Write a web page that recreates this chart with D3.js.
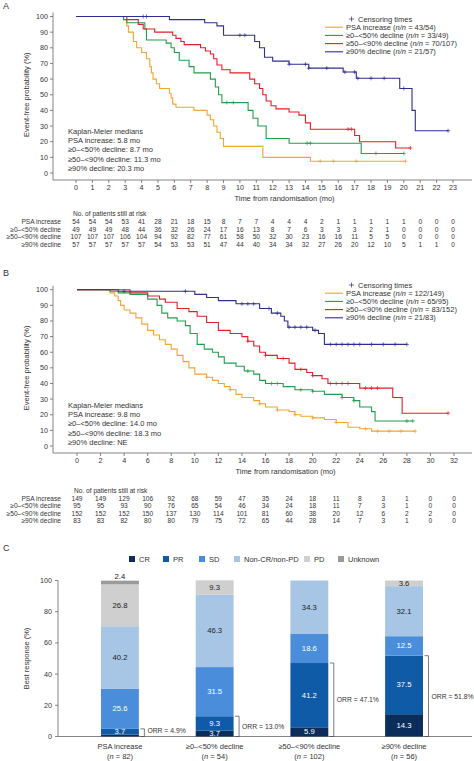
<!DOCTYPE html>
<html><head><meta charset="utf-8">
<script src="https://cdn.jsdelivr.net/npm/d3@7"></script>
<style>body{margin:0;background:#fff}text{font-family:"Liberation Sans",Arial,sans-serif}</style>
</head><body><svg id="c" width="474" height="761"></svg>
<script>
const groups = ["PSA increase","≥0–<50% decline","≥50–<90% decline","≥90% decline"];
const colors = ["#f2a531","#1f9e4b","#e41e26","#2e2f8f"];
// Panel A
const nA = ["43/54","33/49","70/107","21/57"];
const stepsA = [
 [[2.9,98],[3.1,94],[3.2,90],[3.5,84],[3.7,80],[4,77],[4.3,73],[4.5,68],[4.6,64],[4.7,60],[4.9,57],[5.1,54],[5.7,51],[5.8,48],[5.9,44],[6.1,42],[7.2,40],[8,37],[8.2,34],[8.4,30],[8.6,26],[8.8,22],[9,17],[11.4,10],[14.3,7.5]],
 [[2.9,98],[3.1,96],[4.2,92],[4.3,85],[5.5,83],[5.8,80],[6,77],[6.3,72],[6.9,68],[7.2,64],[8.2,60],[8.5,55],[8.7,50],[8.9,45],[10.5,40],[10.8,35],[11.1,30],[11.6,22],[13,19],[17.4,12.5]],
 [[3.1,98],[3.8,95],[4.1,92],[4.8,90],[5.9,88],[6.1,86],[6.4,84],[6.6,82],[7.6,80],[7.9,78],[8.2,76],[8.4,73],[8.6,69],[8.9,66],[9.4,64],[10.6,60],[10.9,57],[11.2,54],[11.4,50],[11.6,46],[11.9,43],[12.2,41],[13,39],[13.6,37],[14,32],[14.3,28],[17,24],[17.3,20],[19.5,16]],
 [[5.7,98],[7.85,96],[8.6,94],[9,88],[10.9,84],[11.2,80],[11.5,74],[12,71.5],[13,69.5],[14.2,67],[16.3,64.5],[17.1,60.5],[19.75,54],[20.5,40],[20.7,27]]
];
const endA = [20.1,20,20.4,22.7];
const censA = [[14.9,15.7,17.1,20.1],[9.2,9.6,14.1,14.3,18.3,20],[16.6,16.8,20.4],[4.1,4.3,10,10.3,13,14,14.2,15.3,16.4,17,17.2,18,18.8,20,22.7]];
const riskTimesA = d3.range(0,24);
const riskA = [
 [54,54,54,53,41,28,21,18,15,8,7,7,4,4,4,2,1,1,1,1,1,0,0,0],
 [49,49,49,48,44,36,32,26,24,17,16,13,8,7,6,3,3,3,2,1,0,0,0,0],
 [107,107,107,106,104,94,92,82,77,61,58,50,32,30,23,16,16,11,5,5,0,0,0,0],
 [57,57,57,57,57,54,53,53,51,47,44,40,34,34,32,27,26,20,12,10,5,1,1,0]
];
const medA = ["Kaplan-Meier medians","PSA increase: 5.8 mo","≥0–<50% decline: 8.7 mo","≥50–<90% decline: 11.3 mo","≥90% decline: 20.3 mo"];
// Panel B
const nB = ["122/149","65/95","83/152","21/83"];
const stepsB = [
 [[2.8,98],[3.2,96],[3.5,93],[3.7,90],[4,87],[4.5,85],[5,82],[5.5,78],[6,74],[6.5,71],[7,68],[7.5,65],[8,62],[8.5,58],[9,54],[9.5,50],[10,46],[11,44],[11.5,42],[12,40],[12.5,38],[13,36],[13.5,33],[14,31],[15,29],[15.5,27],[16,25],[17,23],[18,22],[18.5,20],[19,19],[20,18],[21,17],[22,15],[23,12],[24,11],[25,9.5]],
 [[2.8,99],[3.5,98],[4.5,97],[6,94],[6.8,90],[7.2,85],[7.7,82],[8.5,80],[9.2,77],[9.6,72],[10.2,65],[10.8,62],[11.5,60],[12,57],[12.5,53],[13.5,51],[14.2,48],[15,46],[15.5,42],[16,40],[17.5,38],[18.5,36],[20,35],[21,33],[22.5,31],[23.5,29],[24,25],[25,22],[25.3,16]],
 [[4.5,98],[6,96],[7,94],[7.5,92],[8.5,88],[9.5,86],[10.2,83],[11,79],[12,74],[13,72],[14,70],[14.5,67],[15,64],[15.5,60],[16,58],[17,56],[18,53],[18.5,49],[19.5,47],[20,45],[20.8,43],[21.3,40],[24,37],[26.8,31],[27.6,21]],
 [[3.5,99],[10,97],[11,95],[12,93],[13.5,91],[15.5,88],[16.5,85],[17.3,83],[17.6,80],[17.9,76],[20,74],[20.5,72],[21,65]]
];
const endB = [28.7,28.5,31.5,28];
const censB = [[11,13,15.5,17,18.5,20,22,24.5,25.5,26.5,27.5,28.7],[14.5,16.5,17,19,20,22.5,23.5,28,28.5],[14.5,16,17.5,19,20,21.5,22,22.5,23,24.5,25,25.5,31.5],[4,9.2,14,14.5,15,16.3,17,18,18.5,19,19.5,20.2,21.5,22,22.5,23,23.5,24,25,26,27,28]];
const riskTimesB = d3.range(0,33,2);
const riskB = [
 [149,149,129,106,92,68,59,47,35,24,18,11,8,3,1,0,0],
 [95,95,93,90,76,65,54,46,34,24,18,11,7,3,1,0,0],
 [152,152,152,150,137,130,114,101,81,60,38,20,12,6,2,2,0],
 [83,83,82,80,80,79,75,72,65,44,28,14,7,3,1,0,0]
];
const medB = ["Kaplan-Meier medians","PSA increase: 9.8 mo","≥0–<50% decline: 14.0 mo","≥50–<90%  decline: 18.3 mo","≥90% decline: NE"];
// Panel C
const catsC = ["PSA increase","≥0–<50% decline","≥50–<90% decline","≥90% decline"];
const nC = [82,54,102,56];
const respC = ["CR","PR","SD","Non-CR/non-PD","PD","Unknown"];
const respColors = ["#0b2d5b","#0f5ba7","#4a8edb","#a7c6e5","#cfcfcf","#9a9a9a"];
const valsC = [
 [1.2,3.7,25.6,40.2,26.8,2.4],
 [3.7,9.3,31.5,46.3,9.3,0],
 [5.9,41.2,18.6,34.3,0,0],
 [14.3,37.5,12.5,32.1,3.6,0]
];
const orrC = ["4.9%","13.0%","47.1%","51.8%"];
const labelsC = [["","3.7","25.6","40.2","26.8","2.4"],["3.7","9.3","31.5","46.3","9.3",""],["5.9","41.2","18.6","34.3","",""],["14.3","37.5","12.5","32.1","3.6",""]];

const svg = d3.select("#c");
const FS = 7.2;

function survAt(steps,t){let s=100;for(const [x,v] of steps){if(x<=t)s=v;else break;}return s;}

function kmPanel(o){
  const g = svg.append("g");
  const x = d3.scaleLinear().domain([0,o.xmax]).range([o.x0,o.x1]);
  const y = d3.scaleLinear().domain([0,100]).range([o.y0,o.y100]);
  g.append("line").attr("x1",o.axX).attr("x2",o.axX).attr("y1",y(100)-4).attr("y2",o.axY).attr("stroke","#666").attr("stroke-width",0.8);
  d3.range(0,101,10).forEach(v=>{
    g.append("line").attr("x1",o.axX-3).attr("x2",o.axX).attr("y1",y(v)).attr("y2",y(v)).attr("stroke","#666").attr("stroke-width",0.8);
    g.append("text").attr("x",o.axX-5).attr("y",y(v)+2.5).attr("text-anchor","end").attr("font-size",FS).attr("fill","#333").text(v);
  });
  g.append("text").attr("transform",`translate(${o.axX-24},${(y(0)+y(100))/2}) rotate(-90)`).attr("text-anchor","middle").attr("font-size",FS+0.3).attr("fill","#333").text("Event-free probability (%)");
  g.append("line").attr("x1",o.axX).attr("x2",472).attr("y1",o.axY).attr("y2",o.axY).attr("stroke","#666").attr("stroke-width",0.8);
  o.ticks.forEach(t=>{
    g.append("line").attr("x1",x(t)).attr("x2",x(t)).attr("y1",o.axY).attr("y2",o.axY+3).attr("stroke","#666").attr("stroke-width",0.8);
    g.append("text").attr("x",x(t)).attr("y",o.axY+10).attr("text-anchor","middle").attr("font-size",FS).attr("fill","#333").text(t);
  });
  g.append("text").attr("x",(o.x0+o.x1)/2+20).attr("y",o.axY+21).attr("text-anchor","middle").attr("font-size",FS+0.3).attr("fill","#333").text("Time from randomisation (mo)");
  const line = d3.line().x(d=>x(d[0])).y(d=>y(d[1])).curve(d3.curveStepAfter);
  o.steps.forEach((st,i)=>{
    const pts=[[0,100],...st,[o.ends[i],st[st.length-1][1]]];
    g.append("path").attr("d",line(pts)).attr("fill","none").attr("stroke",colors[i]).attr("stroke-width",1.1);
    o.cens[i].forEach(t=>{
      const cx=x(t), cy=y(survAt(st,t));
      g.append("path").attr("d",`M${cx-2},${cy}H${cx+2}M${cx},${cy-2}V${cy+2}`).attr("stroke",colors[i]).attr("stroke-width",0.7);
    });
  });
  const lx=o.legX, ly=o.legY, dy=8.2;
  g.append("path").attr("d",`M${lx+24},${ly}H${lx+29}M${lx+26.5},${ly-2.5}V${ly+2.5}`).attr("stroke","#2e2f8f").attr("stroke-width",0.7);
  g.append("text").attr("x",lx+33).attr("y",ly+2.5).attr("font-size",FS+0.3).attr("fill","#333").text("Censoring times");
  groups.forEach((gr,i)=>{
    const yy=ly+dy*(i+1);
    g.append("line").attr("x1",lx).attr("x2",lx+18).attr("y1",yy).attr("y2",yy).attr("stroke",colors[i]).attr("stroke-width",1.1);
    const t=g.append("text").attr("x",lx+21).attr("y",yy+2.5).attr("font-size",FS+0.3).attr("fill","#333");
    t.append("tspan").text(gr+" (");
    t.append("tspan").attr("font-style","italic").text("n/n");
    t.append("tspan").text(" = "+o.n[i]+")");
  });
  o.med.forEach((m,i)=>g.append("text").attr("x",o.medX).attr("y",o.medY+i*9.2).attr("font-size",FS+0.3).attr("fill","#333").text(m));
  g.append("text").attr("x",x(0)-3).attr("y",o.riskY).attr("font-size",FS-0.6).attr("fill","#333").text("No. of patients still at risk");
  groups.forEach((gr,i)=>{
    const yy=o.riskY+o.rdy*(i+1);
    g.append("text").attr("x",61).attr("y",yy).attr("text-anchor","end").attr("font-size",FS-0.6).attr("fill","#333").text(gr);
    o.risk[i].forEach((v,j)=>g.append("text").attr("x",x(o.riskT[j])).attr("y",yy).attr("text-anchor","middle").attr("font-size",FS-0.6).attr("fill","#333").text(v));
  });
}

svg.append("text").attr("x",3).attr("y",9).attr("font-size",9).attr("fill","#333").text("A");
kmPanel({xmax:23,x0:76,x1:453,y0:173,y100:16.5,axX:53,axY:180,ticks:d3.range(0,24),steps:stepsA,ends:endA,cens:censA,
  n:nA,legX:325,legY:19,med:medA,medX:68,medY:134,risk:riskA,riskT:riskTimesA,riskY:216,rdy:7.8});
svg.append("text").attr("x",3).attr("y",276).attr("font-size",9).attr("fill","#333").text("B");
kmPanel({xmax:32,x0:77,x1:454,y0:446,y100:289.7,axX:53,axY:453,ticks:d3.range(0,33,2),steps:stepsB,ends:endB,cens:censB,
  n:nB,legX:325,legY:285,med:medB,medX:68,medY:408,risk:riskB,riskT:riskTimesB,riskY:493,rdy:7.5});

// Panel C
svg.append("text").attr("x",3).attr("y",551).attr("font-size",9).attr("fill","#333").text("C");
const gc=svg.append("g");
const xc=d3.scaleBand().domain(catsC).range([72.6,451.4]).paddingInner(0.6).paddingOuter(0.3);
const yc=d3.scaleLinear().domain([0,100]).range([736.5,580.5]);
gc.append("line").attr("x1",58).attr("x2",58).attr("y1",yc(100)).attr("y2",yc(0)).attr("stroke","#666").attr("stroke-width",0.8);
gc.append("line").attr("x1",58).attr("x2",472).attr("y1",yc(0)).attr("y2",yc(0)).attr("stroke","#666").attr("stroke-width",0.8);
[0,20,40,60,80,100].forEach(v=>{
  gc.append("line").attr("x1",55).attr("x2",58).attr("y1",yc(v)).attr("y2",yc(v)).attr("stroke","#666").attr("stroke-width",0.8);
  gc.append("text").attr("x",52).attr("y",yc(v)+2.5).attr("text-anchor","end").attr("font-size",FS).attr("fill","#333").text(v);
});
gc.append("text").attr("transform",`translate(29,${(yc(0)+yc(100))/2}) rotate(-90)`).attr("text-anchor","middle").attr("font-size",FS+0.3).attr("fill","#333").text("Best response (%)");
catsC.forEach((c,i)=>{
  let acc=0; const bx=xc(c), bw=xc.bandwidth();
  valsC[i].forEach((v,k)=>{
    if(v<=0) return;
    gc.append("rect").attr("x",bx).attr("width",bw).attr("y",yc(acc+v)).attr("height",yc(acc)-yc(acc+v)).attr("fill",respColors[k]);
    const lab=labelsC[i][k];
    if(lab){
      let ly=yc(acc+v/2)+2.5;
      if(i===0&&k===5) ly=yc(100)-2;
      gc.append("text").attr("x",bx+bw/2).attr("y",ly).attr("text-anchor","middle").attr("font-size",FS+0.5).attr("fill",(k<=2)?"#fff":"#222").text(lab);
    }
    acc+=v;
  });
  const top=valsC[i][0]+valsC[i][1], br=bx+bw+1.5;
  gc.append("path").attr("d",`M${br},${yc(top)}H${br+4}V${yc(0)}H${br}`).attr("fill","none").attr("stroke","#444").attr("stroke-width",0.7);
  gc.append("text").attr("x",br+7).attr("y",i===0?yc(0)-4:(yc(top)+yc(0))/2+2.5).attr("font-size",FS-0.4).attr("fill","#333").text("ORR = "+orrC[i]);
  gc.append("text").attr("x",bx+bw/2).attr("y",749).attr("text-anchor","middle").attr("font-size",FS+0.3).attr("fill","#333").text(c);
  const t2=gc.append("text").attr("x",bx+bw/2).attr("y",759).attr("text-anchor","middle").attr("font-size",FS+0.3).attr("fill","#333");
  t2.append("tspan").text("(");t2.append("tspan").attr("font-style","italic").text("n");t2.append("tspan").text(" = "+nC[i]+")");
});
const legXs=[129,163,199,234,304,338];
respC.forEach((r,k)=>{
  gc.append("rect").attr("x",legXs[k]).attr("y",556).attr("width",6).attr("height",6).attr("fill",respColors[k]);
  gc.append("text").attr("x",legXs[k]+10).attr("y",561.5).attr("font-size",FS+0.3).attr("fill","#333").text(r);
});
</script></body></html>
